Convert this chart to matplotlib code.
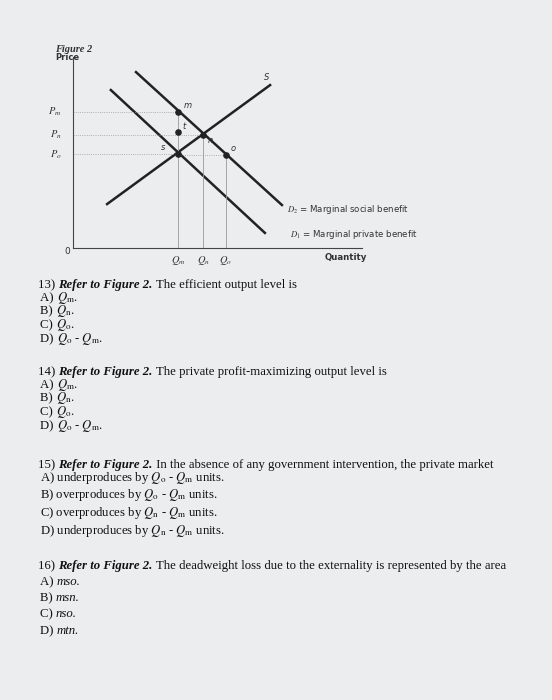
import matplotlib
matplotlib.use("Agg")
import matplotlib.pyplot as plt

plt.rcParams["mathtext.fontset"] = "stix"

# curve end points (data units 0..100)
d1_x = [13.1, 66.4]
d1_y = [82.7, 7.9]
d2_x = [21.8, 72.3]
d2_y = [92.1, 22.5]
s_x = [11.8, 68.2]
s_y = [23.0, 85.3]
pt_names = ["m", "t", "n", "o", "s"]
pt_x = [36.3, 36.3, 45.0, 52.9, 36.3]
pt_y = [71.2, 60.7, 59.2, 48.7, 49.2]
q_labels = [r"$Q_m$", r"$Q_n$", r"$Q_o$"]
q_vals = [36.3, 45.0, 52.9]
p_labels = [r"$P_m$", r"$P_n$", r"$P_o$"]
p_vals = [71.2, 59.2, 49.0]

W, H = 552, 700
fig = plt.figure(figsize=(W / 100, H / 100), dpi=100, facecolor="#ecedef")


def px(x, y):
    return x / W, 1 - y / H


ax = fig.add_axes([73 / W, 1 - 248 / H, 289 / W, 191 / H])
ax.set_xlim(0, 100)
ax.set_ylim(0, 100)
ax.set_facecolor("none")
for side in ["top", "right"]:
    ax.spines[side].set_visible(False)
for side in ["left", "bottom"]:
    ax.spines[side].set_color("#444")
    ax.spines[side].set_linewidth(0.8)
ax.set_xticks([])
ax.set_yticks([])

ax.plot(d1_x, d1_y, color="#222", lw=1.8)
ax.plot(d2_x, d2_y, color="#222", lw=1.8)
ax.plot(s_x, s_y, color="#222", lw=1.8)
for q, p in zip(q_vals, [71.2, 59.2, 48.7]):
    ax.plot([q, q], [0, p], color="#999", lw=0.6)
for p, q in zip(p_vals, [36.3, 45.0, 36.3]):
    ax.plot([0, q], [p, p], color="#999", lw=0.6, ls=":")
ax.plot([36.3, 52.9], [48.9, 48.9], color="#999", lw=0.6, ls=":")
ax.scatter(pt_x, pt_y, s=14, color="#222", zorder=3)
offs = {"m": (2, 2), "t": (1.5, 1.5), "n": (1.5, -4), "o": (1.5, 2), "s": (-6, 2)}
for n, x, y in zip(pt_names, pt_x, pt_y):
    dx, dy = offs[n]
    ax.text(x + dx, y + dy, n, fontsize=6, style="italic", color="#333")
ax.text(66, 88, "S", fontsize=6, style="italic", color="#333")
ax.text(74, 19, r"$D_2$ = Marginal social benefit", fontsize=6.2, color="#333")
ax.text(75, 6, r"$D_1$ = Marginal private benefit", fontsize=6.2, color="#333")
for lab, q in zip(q_labels, q_vals):
    ax.text(q, -3, lab, fontsize=7.5, ha="center", va="top", color="#333")
for lab, p in zip(p_labels, p_vals):
    ax.text(-4, p, lab, fontsize=7.5, ha="right", va="center", color="#333")

fig.text(*px(55, 49), "Figure 2", family="Liberation Serif", style="italic",
         weight="bold", fontsize=7.5, color="#333", va="center")
fig.text(*px(55, 58), "Price", fontsize=6, weight="bold", color="#333", va="center")
fig.text(*px(64, 252), "0", fontsize=6.5, color="#333", va="center")
fig.text(*px(325, 258), "Quantity", fontsize=6.2, weight="bold", color="#333", va="center")

renderer = fig.canvas.get_renderer()


def rich(x, y, parts, size=9.2):
    x0 = x
    for txt, st in parts:
        kw = {}
        if "b" in st:
            kw["weight"] = "bold"
        if "i" in st:
            kw["style"] = "italic"
        t = fig.text(*px(x0, y), txt, family="Liberation Serif", fontsize=size,
                     color="#111", va="center", **kw)
        bb = t.get_window_extent(renderer)
        x0 += bb.width


REF = "Refer to Figure 2."
Q = {"m": r"$Q_\mathrm{m}$", "n": r"$Q_\mathrm{n}$", "o": r"$Q_\mathrm{o}$"}

rich(38, 285, [("13) ", ""), (REF, "bi"), (" The efficient output level is", "")])
rich(40, 298, [("A) ", ""), (Q["m"] + ".", "")])
rich(40, 311, [("B) ", ""), (Q["n"] + ".", "")])
rich(40, 325, [("C) ", ""), (Q["o"] + ".", "")])
rich(40, 339, [("D) ", ""), (Q["o"] + " - " + Q["m"] + ".", "")])

rich(38, 372, [("14) ", ""), (REF, "bi"), (" The private profit-maximizing output level is", "")])
rich(40, 385, [("A) ", ""), (Q["m"] + ".", "")])
rich(40, 398, [("B) ", ""), (Q["n"] + ".", "")])
rich(40, 412, [("C) ", ""), (Q["o"] + ".", "")])
rich(40, 426, [("D) ", ""), (Q["o"] + " - " + Q["m"] + ".", "")])

rich(38, 465, [("15) ", ""), (REF, "bi"),
               (" In the absence of any government intervention, the private market", "")])
rich(40, 478, [("A) underproduces by " + Q["o"] + " - " + Q["m"] + " units.", "")])
rich(40, 495, [("B) overproduces by " + Q["o"] + " - " + Q["m"] + " units.", "")])
rich(40, 513, [("C) overproduces by " + Q["n"] + " - " + Q["m"] + " units.", "")])
rich(40, 531, [("D) underproduces by " + Q["n"] + " - " + Q["m"] + " units.", "")])

rich(38, 566, [("16) ", ""), (REF, "bi"),
               (" The deadweight loss due to the externality is represented by the area", "")])
rich(40, 582, [("A) ", ""), ("mso.", "i")])
rich(40, 598, [("B) ", ""), ("msn.", "i")])
rich(40, 614, [("C) ", ""), ("nso.", "i")])
rich(40, 631, [("D) ", ""), ("mtn.", "i")])

fig.savefig("out.png", dpi=100, facecolor=fig.get_facecolor())
